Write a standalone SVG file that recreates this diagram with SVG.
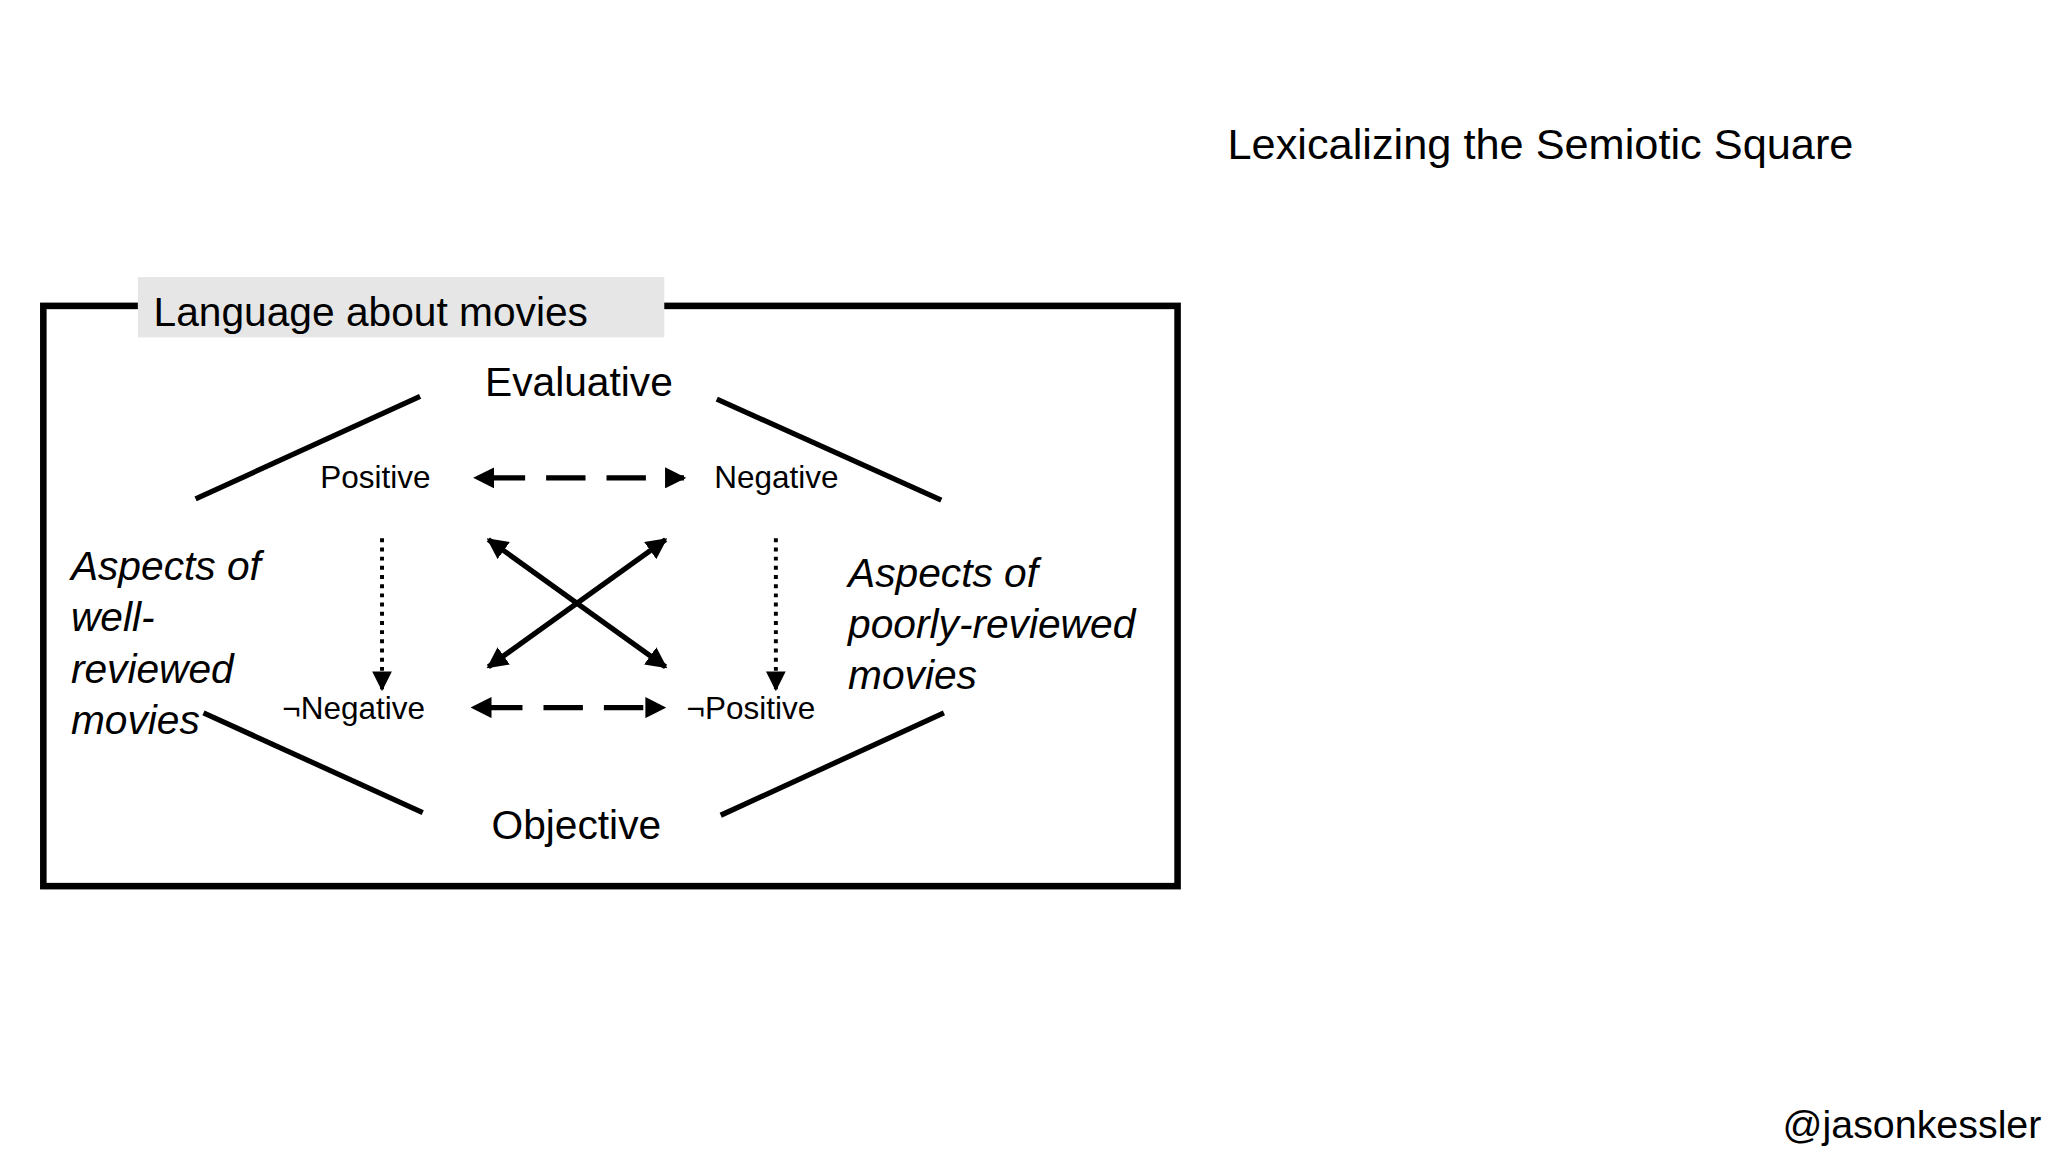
<svg xmlns="http://www.w3.org/2000/svg" width="2048" height="1152" viewBox="0 0 2048 1152">
<style>
text{font-family:"Liberation Sans",Arial,sans-serif;fill:#000}
.big{font-size:31px}.sm{font-size:24px}.it{font-size:31px;font-style:italic}
.ln{stroke:#000;stroke-width:4;fill:none}
</style>
<defs>
<marker id="ah" viewBox="0 0 10 10" refX="9" refY="5" markerWidth="4" markerHeight="4" orient="auto-start-reverse"><path d="M0,0L10,5L0,10z" fill="#000"/></marker>
<marker id="ahs" viewBox="0 0 10 10" refX="9" refY="5" markerWidth="5" markerHeight="5" orient="auto-start-reverse"><path d="M0,0L10,5L0,10z" fill="#000"/></marker>
</defs>
<rect width="2048" height="1152" fill="#fff"/>
<g transform="scale(1.3128)">
<text id="title" x="935" y="121" style="font-size:33px">Lexicalizing the Semiotic Square</text>
<text id="author" x="1555" y="867" text-anchor="end" style="font-size:30px">@jasonkessler</text>
<g id="frame"><rect x="33" y="233" width="864" height="442" fill="none" stroke="#000" stroke-width="5"/>
<rect x="105" y="211" width="401" height="46" fill="#e6e6e6"/>
<text x="117" y="248" class="big">Language about movies</text></g>
<g id="evaluative"><text x="441" y="302" text-anchor="middle" class="big">Evaluative</text></g>
<g id="objective"><text x="439" y="639" text-anchor="middle" class="big">Objective</text></g>
<g id="positive"><text x="244" y="372" class="sm">Positive</text></g>
<g id="negative"><text x="544" y="372" class="sm">Negative</text></g>
<g id="notnegative"><text x="215" y="548" class="sm">¬Negative</text></g>
<g id="notpositive"><text x="523" y="548" class="sm">¬Positive</text></g>
<g id="wellreviewed"><text class="it" x="54" y="442">Aspects of</text><text class="it" x="54" y="481">well-</text><text class="it" x="54" y="520">reviewed</text><text class="it" x="54" y="559">movies</text></g>
<g id="poorlyreviewed"><text class="it" x="646" y="447">Aspects of</text><text class="it" x="646" y="486">poorly-reviewed</text><text class="it" x="646" y="525">movies</text></g>
<g id="connectors">
<line class="ln" x1="149" y1="380" x2="320" y2="302"/>
<line class="ln" x1="546" y1="304" x2="717" y2="381"/>
<line class="ln" x1="155" y1="543" x2="322" y2="619"/>
<line class="ln" x1="549" y1="621" x2="719" y2="543"/>
<line class="ln" x1="362" y1="364" x2="521" y2="364" stroke-dasharray="30 16" stroke-dashoffset="-8" marker-start="url(#ah)" marker-end="url(#ah)"/>
<line class="ln" x1="360" y1="539" x2="506" y2="539" stroke-dasharray="30 16" stroke-dashoffset="-8" marker-start="url(#ah)" marker-end="url(#ah)"/>
<line x1="291" y1="410" x2="291" y2="525" stroke="#000" stroke-width="3" stroke-dasharray="3 4" marker-end="url(#ahs)"/>
<line x1="591" y1="410" x2="591" y2="525" stroke="#000" stroke-width="3" stroke-dasharray="3 4" marker-end="url(#ahs)"/>
<line class="ln" x1="372" y1="411" x2="507" y2="508" marker-start="url(#ah)" marker-end="url(#ah)"/>
<line class="ln" x1="507" y1="411" x2="372" y2="508" marker-start="url(#ah)" marker-end="url(#ah)"/>
</g>
</g>
</svg>
